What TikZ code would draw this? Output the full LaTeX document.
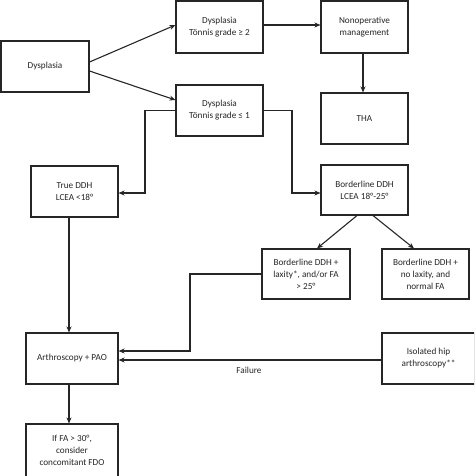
\documentclass[tikz,border=0pt]{standalone}
\usepackage{fontspec}
\setmainfont{Carlito}
\usetikzlibrary{arrows.meta}
\begin{document}
\begin{tikzpicture}[x=1pt,y=-1pt,
  box/.style={draw=black!85, line width=1.1pt, fill=white, align=center, inner sep=0pt,
    font=\fontsize{9.2pt}{12pt}\selectfont, text=black!85},
  arr/.style={draw=black!85, line width=1.1pt, -{Stealth[length=6pt,width=5pt]}},
  ln/.style={draw=black!85, line width=1.1pt}]
\useasboundingbox (0,0) rectangle (474,476);
\clip (0,0) rectangle (474,476);
\node[box, minimum width=88pt, minimum height=51pt] (dys) at (45,66.5) {Dysplasia};
\node[box, minimum width=87pt, minimum height=52pt] (dys2) at (219.5,27) {Dysplasia\\Tönnis grade ≥ 2};
\node[box, minimum width=87pt, minimum height=52pt] (nonop) at (364.5,27) {Nonoperative\\management};
\node[box, minimum width=87pt, minimum height=51pt] (tha) at (364.5,118.5) {THA};
\node[box, minimum width=87pt, minimum height=51pt] (dys1) at (219.5,110.5) {Dysplasia\\Tönnis grade ≤ 1};
\node[box, minimum width=87pt, minimum height=51pt] (true) at (74.5,191.5) {True DDH\\LCEA <18°};
\node[box, minimum width=87pt, minimum height=50pt] (bddh) at (364.5,190) {Borderline DDH\\LCEA 18°-25°};
\node[box, minimum width=88pt, minimum height=50pt] (lax) at (306,274) {Borderline DDH +\\laxity*, and/or FA\\> 25°};
\node[box, minimum width=87pt, minimum height=50pt] (nolax) at (425.5,274) {Borderline DDH +\\no laxity, and\\normal FA};
\node[box, minimum width=92pt, minimum height=51pt] (arth) at (72,358.5) {Arthroscopy + PAO};
\node[box, minimum width=93pt, minimum height=51pt] (iso) at (428.5,358.5) {Isolated hip\\arthroscopy**};
\node[box, minimum width=92pt, minimum height=53pt] (iffa) at (72,450.5) {If FA > 30°,\\consider\\concomitant FDO};
% connectors
\draw[arr] ([yshift=4.5pt]dys.east) -- ([yshift=2pt]dys2.west);
\draw[arr] ([yshift=-4.5pt]dys.east) -- ([yshift=10.5pt]dys1.west);
\draw[arr] ([yshift=2pt]dys2.east) -- ([yshift=2pt]nonop.west);
\draw[arr] ([xshift=-1.5pt]nonop.south) -- ([xshift=-1.5pt]tha.north);
\coordinate (j1) at (145,150);
\coordinate (j2) at (292,150);
\draw[arr] (dys1.west) -| (j1) |- ([yshift=-1.5pt]true.east);
\draw[arr] (dys1.east) -| (j2) |- ([yshift=-3pt]bddh.west);
\draw[arr] ([xshift=-7.5pt]bddh.south) -- ([xshift=11pt]lax.north);
\draw[arr] ([xshift=8.5pt]bddh.south) -- ([xshift=-11.5pt]nolax.north);
\coordinate (j3) at (190,310);
\draw[arr] (lax.west) -| (j3) |- ([yshift=7.5pt]arth.east);
\draw[arr] ([xshift=-5.5pt]true.south) -- ([xshift=-3pt]arth.north);
\draw[arr] ([xshift=-3pt]arth.south) -- ([xshift=-3pt]iffa.north);
\draw[arr] ([yshift=-1.5pt]iso.west) -- node[below=3pt, pos=0.5, font=\fontsize{9.2pt}{12pt}\selectfont, text=black!85, xshift=-1pt] {Failure} ([yshift=-1.5pt]arth.east);
\end{tikzpicture}
\end{document}
